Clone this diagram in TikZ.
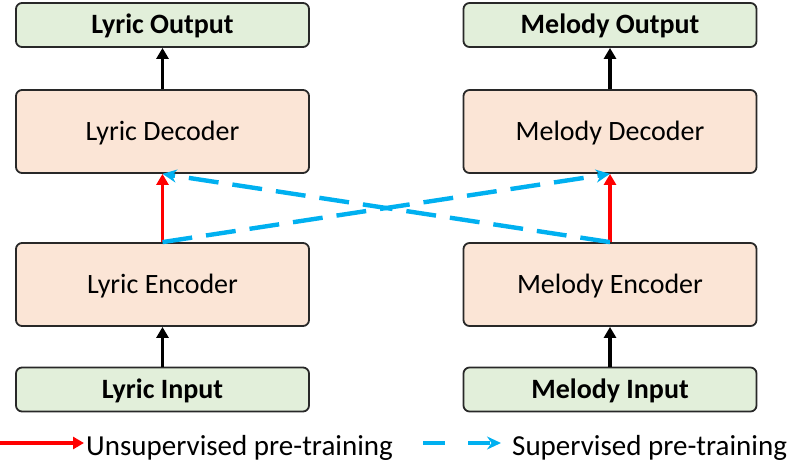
\documentclass[tikz,border=0pt]{standalone}
\usepackage{fontspec}
\setmainfont{Carlito}
\usepackage{xcolor}
\usepackage{tikz}
\usetikzlibrary{arrows.meta, positioning}
\definecolor{iobg}{RGB}{226,239,218}
\definecolor{codecbg}{RGB}{251,229,214}
\definecolor{superblue}{RGB}{0,176,240}
\definecolor{edgegray}{RGB}{40,40,40}

\begin{document}
\begin{tikzpicture}[x=1pt, y=-1pt,
    block/.style={rectangle, rounded corners=6pt, draw=edgegray, line width=1.8pt, minimum width=293pt, align=center, text height=18pt, text depth=0pt, font=\fontsize{28}{32}\selectfont},
    iobox/.style={block, fill=iobg, minimum height=44pt, font=\fontsize{28}{32}\selectfont\bfseries},
    codecbox/.style={block, fill=codecbg, minimum height=83pt},
    flow/.style={-{Triangle[length=11pt, width=12pt]}, line width=3.6pt},
    unsup/.style={-{Triangle[length=11pt, width=12pt]}, line width=3.8pt, red},
    sup/.style={-{Stealth[length=14pt, width=13pt]}, line width=4.4pt, superblue, dash pattern=on 30pt off 14pt},
    legendtext/.style={inner sep=0pt, font=\fontsize{29}{32}\selectfont}
]
\useasboundingbox (0,0) rectangle (788,463);

\node[iobox] (lyricout) at (162.5,25) {Lyric Output};
\node[codecbox] (lyricdec) at (162.5,131.5) {Lyric Decoder};
\node[codecbox] (lyricenc) at (162.5,284.5) {Lyric Encoder};
\node[iobox] (lyricin) at (162.5,389.5) {Lyric Input};

\node[iobox] (melodyout) at (610,25) {Melody Output};
\node[codecbox] (melodydec) at (610,131.5) {Melody Decoder};
\node[codecbox] (melodyenc) at (610,284.5) {Melody Encoder};
\node[iobox] (melodyin) at (610,389.5) {Melody Input};

\draw[flow] (lyricin) -- (lyricenc);
\draw[flow] (lyricdec) -- (lyricout);
\draw[flow] (melodyin) -- (melodyenc);
\draw[flow] (melodydec) -- (melodyout);

\draw[unsup] (lyricenc.north) -- (lyricdec.south);
\draw[unsup] (melodyenc.north) -- (melodydec.south);
\draw[sup] (lyricenc.north) -- (melodydec.south);
\draw[sup] (melodyenc.north) -- (lyricdec.south);

% legend
\node[legendtext, anchor=base west] (unsuplabel) at (86,455) {Unsupervised pre-training};
\node[legendtext, anchor=base west] (suplabel) at (512,455) {Supervised pre-training};
\coordinate (unsupstart) at (0,443);
\coordinate (unsupend) at (84,443);
\coordinate (supstart) at (423,443);
\coordinate (supend) at (501,443);
\draw[unsup] (unsupstart) -- (unsupend);
\draw[sup, dash pattern=on 22pt off 23pt] (supstart) -- (supend);

\end{tikzpicture}
\end{document}
